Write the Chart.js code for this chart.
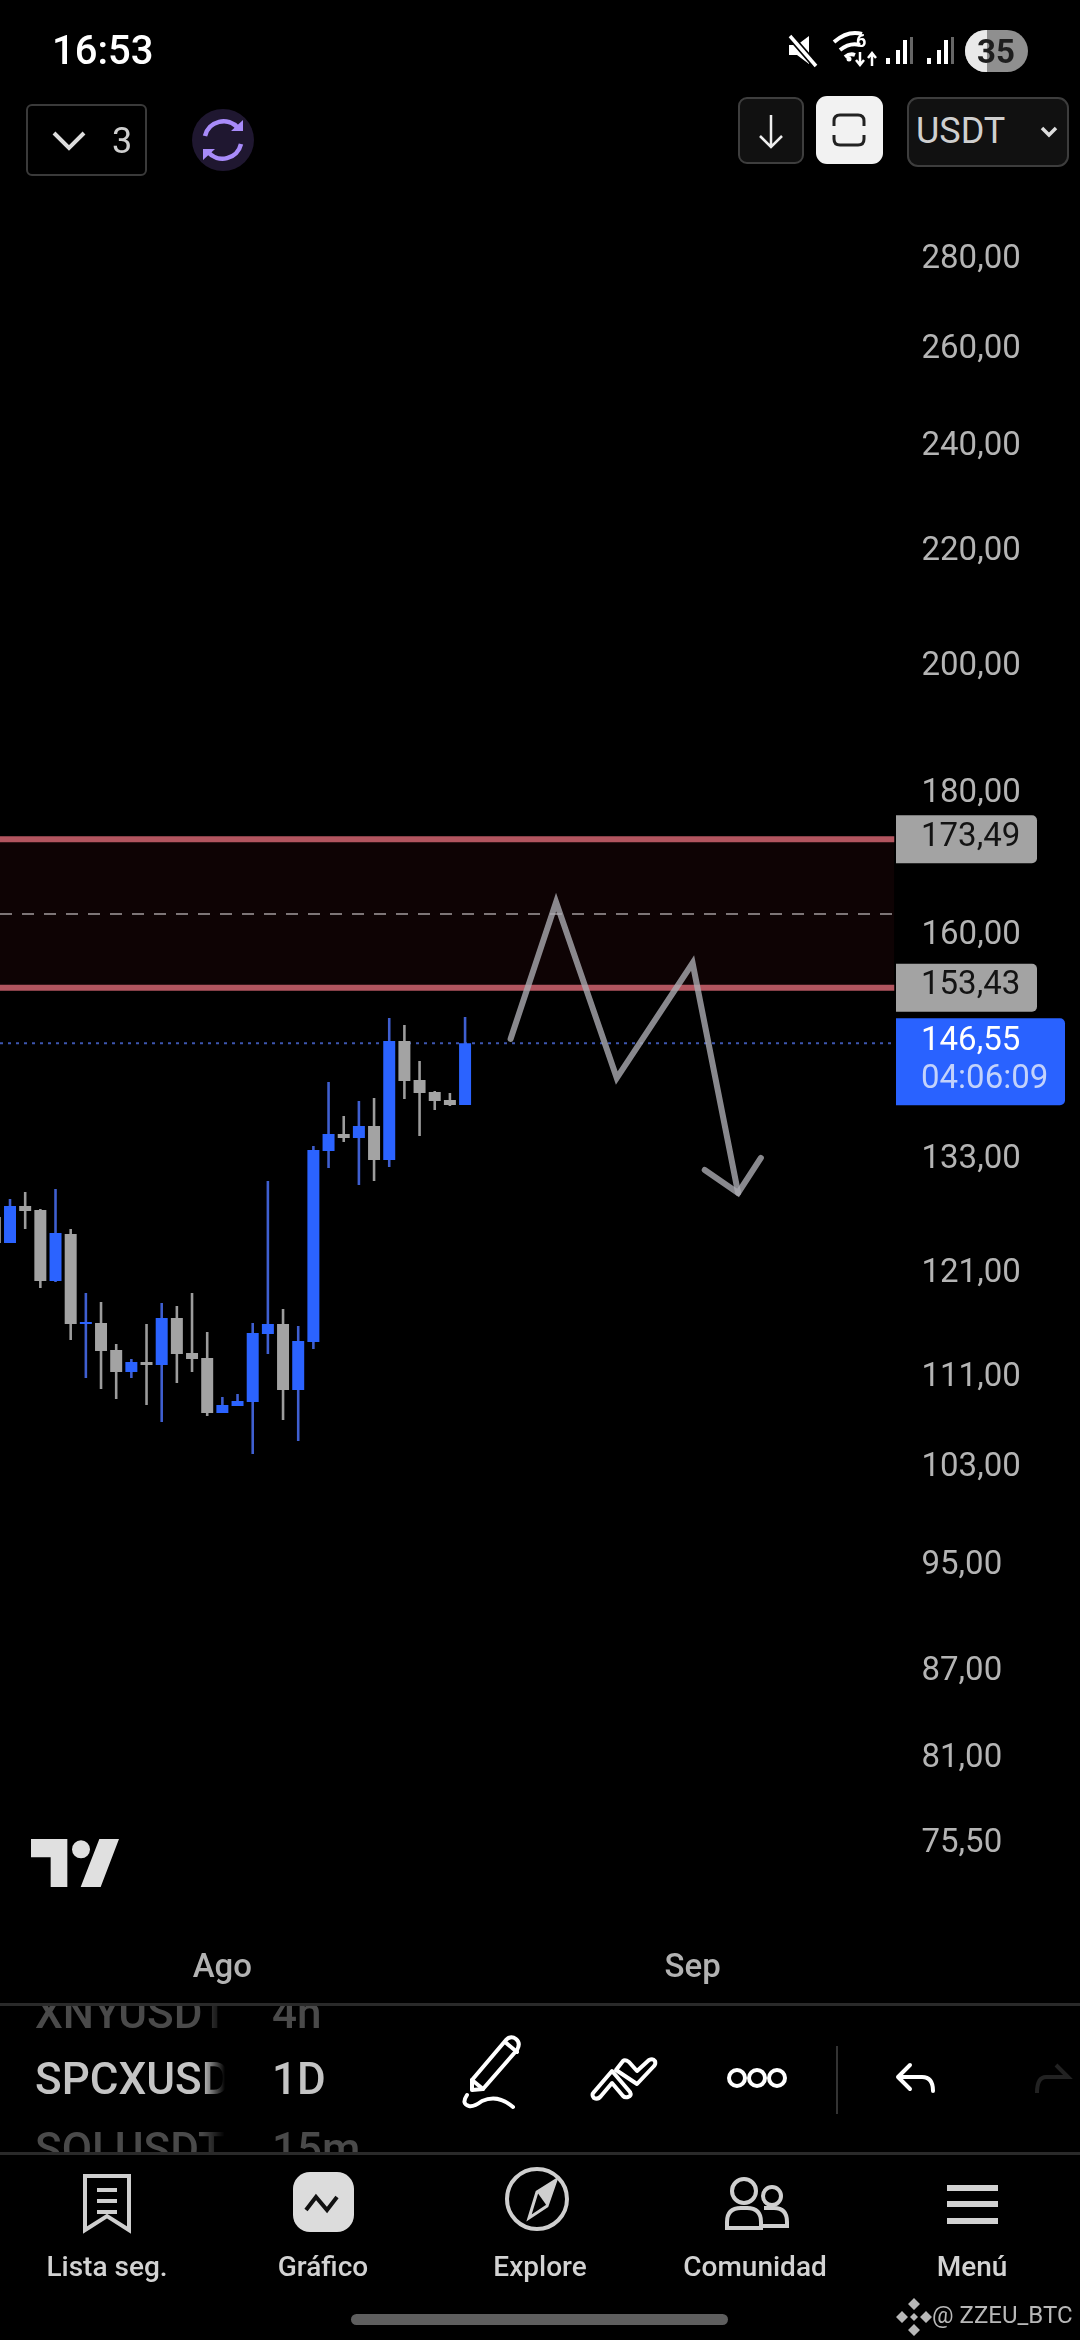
<!DOCTYPE html>
<html>
<head>
<meta charset="utf-8">
<title>SPCXUSDT</title>
<script src="https://cdn.jsdelivr.net/npm/chart.js@4/dist/chart.umd.min.js"></script>
<style>
html, body { margin: 0; padding: 0; background: #000; }
#page { position: relative; width: 1080px; height: 2340px; overflow: hidden; background: #000; font-family: Roboto, sans-serif; }
#chart { position: absolute; left: 0; top: 0; }
.t { position: absolute; white-space: nowrap; line-height: 1; }
.c { transform: translateX(-50%); }
.box { position: absolute; box-sizing: border-box; }
svg { position: absolute; overflow: visible; }
.rule { position: absolute; left: 0; width: 1080px; height: 3px; background: #2a2a2a; }
.nav { font-size: 28px; font-weight: 500; color: #d2d2d2; top: 2253px; }
#picker { position: absolute; left: 0; top: 2006px; width: 1080px; height: 146px; overflow: hidden; }
#picker .t { font-size: 44px; font-weight: 500; }
.fade { width: 190px; overflow: hidden; -webkit-mask-image: linear-gradient(to right, #000 88%, transparent 100%); mask-image: linear-gradient(to right, #000 88%, transparent 100%); }
</style>
</head>
<body>
<div id="page">
<canvas id="chart" width="1080" height="2340" style="width:1080px;height:2340px"></canvas>

<!-- status bar -->
<div class="t" style="left:52px;top:31px;font-size:40px;font-weight:500;color:#fff">16:53</div>
<svg style="left:0;top:0" width="1080" height="90">
  <path d="M789 45h8l12-9v28l-12-9h-8z" fill="#fff"/>
  <path d="M790 36l26 30" stroke="#000" stroke-width="7"/>
  <path d="M790 36l26 30" stroke="#fff" stroke-width="3.5"/>
  <g fill="none" stroke="#fff" stroke-width="4">
    <path d="M834 42q14-12 28-8"/><path d="M840 50q10-8 20-5"/><path d="M845 57q5-4 10-2"/>
  </g>
  <circle cx="849" cy="59" r="2.5" fill="#fff"/>
  <text x="856" y="47" font-size="18" font-weight="700" fill="#fff" font-family="Roboto">6</text>
  <path d="M860 52v12m-4-4l4 5 4-5M872 66v-12m-4 4l4-5 4 5" fill="none" stroke="#fff" stroke-width="2.5"/>
  <g fill="#fff">
    <rect x="886" y="58" width="4" height="6"/><rect x="896" y="50" width="4" height="14"/><rect x="903" y="40" width="4" height="24"/>
    <rect x="927" y="58" width="4" height="6"/><rect x="937" y="50" width="4" height="14"/><rect x="944" y="40" width="4" height="24"/>
  </g>
  <rect x="910" y="37" width="3" height="27" fill="#666"/><rect x="951" y="37" width="3" height="27" fill="#666"/>
  <rect x="965" y="30" width="63" height="42" rx="21" fill="#8f8f8f"/>
  <path d="M987 30h-1a21 21 0 0 0 0 42h1z" fill="#e9e9e9"/>
  <text x="996" y="63" font-size="33" font-weight="700" fill="#1e1e1e" text-anchor="middle" font-family="Roboto">35</text>
</svg>

<!-- top buttons -->
<div class="box" style="left:26px;top:104px;width:121px;height:72px;border:2px solid #3a3a3a;border-radius:6px"></div>
<svg style="left:0;top:90px" width="300" height="100">
  <path d="M54 43l15 15 15-15" fill="none" stroke="#ddd" stroke-width="4"/>
  <circle cx="223" cy="50" r="31" fill="#1f1730"/>
  <g fill="none" stroke="#a88bfa" stroke-width="4.5">
    <path d="M205 46a19 19 0 0 1 33-8"/><path d="M241 54a19 19 0 0 1-33 8"/>
  </g>
  <path d="M231 41h12v-11zM215 59h-12v11z" fill="#a88bfa"/>
</svg>
<div class="t" style="left:112px;top:123px;font-size:36px;color:#cfcfcf">3</div>
<div class="box" style="left:738px;top:97px;width:66px;height:67px;background:#111;border:2px solid #3e3e3e;border-radius:9px"></div>
<svg style="left:0;top:0" width="1080" height="190">
  <path d="M771 115v32m-11-11l11 11 11-11" fill="none" stroke="#eee" stroke-width="2.5"/>
</svg>
<div class="box" style="left:816px;top:96px;width:67px;height:68px;background:#f2f2f2;border-radius:11px"></div>
<svg style="left:0;top:0" width="1080" height="190">
  <path d="M834 126v-5q0-6 6-6h18q6 0 6 6v5M834 135v4q0 6 6 6h18q6 0 6-6v-4" fill="none" stroke="#222" stroke-width="3"/>
</svg>
<div class="box" style="left:907px;top:97px;width:162px;height:70px;background:#111;border:2px solid #3d3d3d;border-radius:11px"></div>
<div class="t" style="left:916px;top:113px;font-size:36px;color:#cfcfcf">USDT</div>
<svg style="left:0;top:0" width="1080" height="190">
  <path d="M1042 128l7 7 7-7" fill="none" stroke="#ddd" stroke-width="3.5"/>
</svg>

<!-- TradingView mark -->
<svg style="left:10px;top:1820px" width="130" height="80" viewBox="0 0 390 240">
  <path d="M63 57H172V201H122V112H63z M268 57H327L272 201H212z" fill="#e0e0e0"/>
  <circle cx="213" cy="88" r="27" fill="#e0e0e0"/>
</svg>

<!-- symbol picker -->
<div class="rule" style="top:2003px"></div>
<div id="picker">
  <div class="t fade" style="left:35px;top:-15px;color:#4a4a4a">XNYUSDT</div>
  <div class="t" style="left:272px;top:-15px;color:#4a4a4a">4h</div>
  <div class="t fade" style="left:35px;top:51px;color:#c4c4c4">SPCXUSDT</div>
  <div class="t" style="left:272px;top:51px;color:#c4c4c4">1D</div>
  <div class="t fade" style="left:35px;top:121px;color:#4a4a4a">SOLUSDT</div>
  <div class="t" style="left:272px;top:121px;color:#4a4a4a">15m</div>
</div>
<div class="rule" style="top:2152px"></div>

<!-- drawing toolbar -->
<svg style="left:0;top:2000px" width="1080" height="160">
  <g fill="none" stroke="#fff" stroke-width="4" stroke-linejoin="round" stroke-linecap="round">
    <path d="M472 80l34-40q5-5 10-1t1 11l-34 39-11 1z"/><path d="M505 42l12 10M472 80l11 9"/>
    <path d="M467 95q-6 9 2 11 5 1 13-5 16-7 31 6"/>
    <path d="M594 92l18-21 18 21q2 4-2 5-3 1-5-1l-11-13-11 13q-3 4-7 2-3-3 0-6z"/>
    <path d="M616 70l7-9q2-2 6 1l8 9 12-11q4-2 6 1 1 3-1 5l-17 18-21-14z"/>
    <circle cx="737" cy="78" r="8"/><circle cx="757" cy="78" r="8"/><circle cx="777" cy="78" r="8"/>
    <path d="M910 65l-12 12 12 12M898 77h24q11 0 11 14"/>
  </g>
  <path d="M837 46v68" stroke="#333" stroke-width="2"/>
  <path d="M1056 65l12 12-12 0M1068 77h-22q-9 0-9 16" fill="none" stroke="#222" stroke-width="4"/>
</svg>

<!-- bottom nav -->
<svg style="left:0;top:2160px" width="1080" height="180">
  <g fill="none" stroke="#cfcfcf" stroke-width="4">
    <path d="M85 16h44v54l-22-14-22 14z"/>
    <path d="M97 30h20M97 41h20M97 52h20"/>
    <circle cx="537" cy="39" r="30"/>
    <circle cx="744" cy="31" r="12"/><circle cx="772" cy="36" r="9"/>
    <path d="M727 68v-6q0-14 14-14h6q14 0 14 14v6zM764 48h10q13 0 13 14v4h-26"/>
  </g>
  <rect x="293" y="12" width="61" height="60" rx="17" fill="#dcdcdc"/>
  <path d="M306 50l10-13 11 13 10-13" fill="none" stroke="#111" stroke-width="4"/>
  <path d="M556 20l-9 26-18 12 8-26z" fill="none" stroke="#cfcfcf" stroke-width="3"/>
  <path d="M556 20l-9 26-10-14z" fill="#cfcfcf"/>
  <g fill="#d2d2d2"><rect x="947" y="25" width="51" height="6"/><rect x="947" y="41" width="51" height="6"/><rect x="947" y="58" width="51" height="6"/></g>
  <rect x="351" y="154" width="377" height="11" rx="5.5" fill="#5e5e5e"/>
  <g fill="#b8b8b8">
    <path d="M914 138l6 6-6 6-6-6zM902 151l6 6-6 6-6-6zM926 151l6 6-6 6-6-6zM914 164l6 6-6 6-6-6z"/>
    <path d="M914 153l4 4-4 4-4-4z"/>
  </g>
</svg>
<div class="t nav c" style="left:107px">Lista seg.</div>
<div class="t nav c" style="left:323px">Gráfico</div>
<div class="t nav c" style="left:540px">Explore</div>
<div class="t nav c" style="left:755px">Comunidad</div>
<div class="t nav c" style="left:972px">Menú</div>
<div class="t" style="left:932px;top:2303px;font-size:24px;color:#b8b8b8">@ ZZEU_BTC</div>
</div>

<script>
// x position of each daily candle, 14 = 1 Aug
const dayIndex = [-1, 0, 1, 2, 3, 4, 5, 6, 7, 8, 9, 10, 11, 12, 13, 14, 15, 16, 17, 18, 19, 20, 21, 22, 23, 24, 25, 26, 27, 28, 29, 30];
const opens = [126.91, 124.21, 128.07, 127.65, 120.36, 125.14, 116.15, 116.25, 113.68, 111.63, 112.56, 112.28, 116.73, 113.39, 112.93, 107.90, 108.53, 108.89, 115.19, 116.15, 109.98, 114.43, 134.03, 135.93, 135.48, 136.83, 133.04, 146.81, 142.14, 140.74, 139.81, 139.23];
const highs = [126.91, 128.82, 129.57, 127.75, 129.89, 125.66, 119.17, 118.28, 114.24, 112.84, 116.15, 118.19, 117.89, 119.17, 115.38, 109.34, 109.61, 116.25, 130.75, 117.60, 115.96, 134.58, 141.91, 137.97, 139.69, 140.04, 149.63, 148.77, 144.40, 140.86, 140.62, 149.76];
const lows = [124.21, 124.21, 125.66, 119.67, 120.27, 114.62, 111.07, 110.07, 109.16, 111.07, 108.62, 107.10, 110.62, 111.63, 107.64, 107.90, 108.53, 104.30, 113.30, 107.28, 105.43, 113.77, 132.17, 135.03, 130.32, 130.75, 132.27, 139.93, 135.70, 138.66, 139.12, 139.23];
const closes = [124.21, 128.07, 127.54, 120.36, 125.24, 116.15, 116.34, 113.58, 111.63, 112.56, 112.28, 116.73, 113.30, 112.84, 107.90, 108.62, 108.98, 115.29, 116.15, 109.98, 114.53, 134.14, 135.93, 135.48, 136.83, 133.04, 146.81, 142.03, 140.62, 139.69, 139.23, 146.55];

const yTicks = [280, 260, 240, 220, 200, 180, 160, 133, 121, 111, 103, 95, 87, 81, 75.5];
const xTicks = [14, 45];
const xTickLabels = ['Ago', 'Sep'];

const upperPrice = 173.49;
const lowerPrice = 153.43;
const midPrice = 163.09;
const lastPrice = 146.55;
const countdown = '04:06:09';

// hand drawn zigzag and its arrow head
const zigzagDays = [33, 36, 40, 45, 48];
const zigzagPrices = [147.06, 164.71, 142.38, 156.60, 129.46];
const arrowDays = [45.8, 48, 49.5];
const arrowPrices = [131.95, 129.46, 133.27];

const BLUE = '#2b63ff';
const GRAY = '#a3a3a3';

const fmt = v => Number(v).toFixed(2).replace('.', ',');
const isUp = i => closes[i] >= opens[i];
const xMin = -0.66, xMax = 58.31;

function hline(price){
    return [{x: xMin, y: price}, {x: xMax, y: price}];
}

function polyline(days, prices){
    return days.map((d, i) => ({x: d, y: prices[i]}));
}

// price tags sit outside the plot, on the axis
const priceTags = {
    id: 'priceTags',
    afterDraw(chart){
        const c = chart.ctx;
        const y = chart.scales.y;
        c.save();
        c.font = '33px Roboto';
        c.textBaseline = 'middle';
        c.textAlign = 'left';
        [upperPrice, lowerPrice].forEach(p => {
            const py = y.getPixelForValue(p);
            c.fillStyle = '#a3a3a3';
            c.beginPath();
            c.roundRect(896, py - 24, 141, 48, [0, 5, 5, 0]);
            c.fill();
            c.fillStyle = '#131313';
            c.fillText(fmt(p), 921, py - 2);
        });
        const py = y.getPixelForValue(lastPrice);
        c.fillStyle = '#2962ff';
        c.beginPath();
        c.roundRect(896, py - 25, 169, 87, [0, 5, 5, 0]);
        c.fill();
        c.fillStyle = '#ffffff';
        c.fillText(fmt(lastPrice), 921, py - 1);
        c.fillStyle = '#c3d2fb';
        c.fillText(countdown, 921, py + 37);
        c.restore();
    }
};

new Chart(document.getElementById('chart'), {
    data: {
        datasets: [
            {
                type: 'line',
                data: polyline(zigzagDays, zigzagPrices),
                borderColor: 'rgba(170,170,176,0.8)',
                borderWidth: 6,
                borderCapStyle: 'round',
                borderJoinStyle: 'miter',
                pointRadius: 0,
                order: 0
            },
            {
                type: 'line',
                data: polyline(arrowDays, arrowPrices),
                borderColor: 'rgba(170,170,176,0.8)',
                borderWidth: 6,
                borderCapStyle: 'round',
                pointRadius: 0,
                order: 0
            },
            {
                type: 'bar',
                data: dayIndex.map((d, i) => ({x: d, y: [opens[i], closes[i]]})),
                backgroundColor: dayIndex.map((d, i) => isUp(i) ? BLUE : GRAY),
                borderWidth: 0,
                grouped: false,
                barPercentage: 0.79,
                categoryPercentage: 1,
                order: 1
            },
            {
                type: 'bar',
                data: dayIndex.map((d, i) => ({x: d, y: [lows[i], highs[i]]})),
                backgroundColor: dayIndex.map((d, i) => isUp(i) ? '#3f5fd0' : '#9c9c9c'),
                borderWidth: 0,
                grouped: false,
                barPercentage: 0.17,
                categoryPercentage: 1,
                order: 2
            },
            {
                type: 'line',
                data: hline(lastPrice),
                borderColor: '#3d56b0',
                borderWidth: 2,
                borderDash: [3, 5],
                pointRadius: 0,
                order: 3
            },
            {
                type: 'line',
                data: hline(midPrice),
                borderColor: '#7d7577',
                borderWidth: 2,
                borderDash: [12, 10],
                pointRadius: 0,
                order: 4
            },
            {
                type: 'line',
                data: hline(upperPrice),
                borderColor: '#b2555f',
                borderWidth: 6,
                backgroundColor: '#0e0304',
                fill: {value: lowerPrice},
                pointRadius: 0,
                order: 5
            },
            {
                type: 'line',
                data: hline(lowerPrice),
                borderColor: '#b2555f',
                borderWidth: 6,
                pointRadius: 0,
                order: 4
            }
        ]
    },
    options: {
        responsive: false,
        animation: false,
        events: [],
        layout: {
            padding: {top: 130, bottom: 345, left: 0, right: 0}
        },
        plugins: {
            legend: {display: false},
            tooltip: {enabled: false}
        },
        scales: {
            x: {
                type: 'linear',
                min: xMin,
                max: xMax,
                offset: false,
                grid: {display: false},
                border: {display: false},
                afterBuildTicks: s => { s.ticks = xTicks.map(v => ({value: v})); },
                afterFit: s => { s.height = 60; },
                ticks: {
                    autoSkip: false,
                    maxRotation: 0,
                    padding: 6,
                    color: '#b2b2b2',
                    font: {family: 'Roboto', size: 33, weight: '500'},
                    callback: v => xTickLabels[xTicks.indexOf(v)]
                }
            },
            y: {
                type: 'logarithmic',
                position: 'right',
                min: 70.04,
                max: 312.1,
                grid: {display: false},
                border: {display: false},
                afterBuildTicks: s => { s.ticks = yTicks.map(v => ({value: v})); },
                afterFit: s => { s.width = 185.5; },
                ticks: {
                    autoSkip: false,
                    padding: 19,
                    labelOffset: -1,
                    color: '#b4b4b4',
                    font: {family: 'Roboto', size: 33},
                    callback: v => fmt(v)
                }
            }
        }
    },
    plugins: [priceTags]
});
</script>
</body>
</html>
